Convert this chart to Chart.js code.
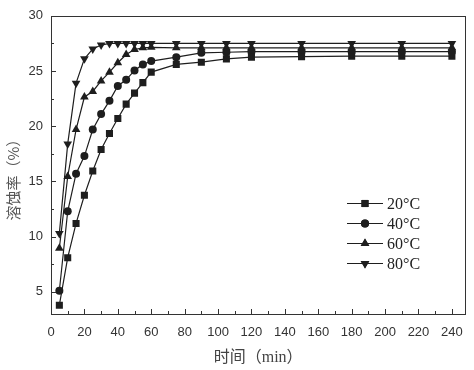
<!DOCTYPE html>
<html>
<head>
<meta charset="utf-8">
<script src="https://cdn.jsdelivr.net/npm/chart.js@4.4.1/dist/chart.umd.min.js"></script>
<style>
  html, body { margin: 0; padding: 0; background: #fff; }
  #wrap { width: 474px; height: 370px; }
</style>
</head>
<body>
<div id="wrap"><canvas id="c" width="474" height="370"></canvas></div>
<script>
// ---- data ----
const times = [5, 10, 15, 20, 25, 30, 35, 40, 45, 50, 55, 60, 75, 90, 105, 120, 150, 180, 210, 240];
const s20 = [3.8, 8.1, 11.2, 13.75, 15.95, 17.9, 19.35, 20.7, 22.0, 23.0, 23.95, 24.9, 25.6, 25.8, 26.1, 26.25, 26.3, 26.35, 26.35, 26.35];
const s40 = [5.1, 12.3, 15.7, 17.3, 19.7, 21.1, 22.3, 23.65, 24.2, 25.05, 25.6, 25.9, 26.25, 26.65, 26.7, 26.75, 26.75, 26.75, 26.75, 26.75];
const s60 = [8.95, 15.45, 19.7, 22.65, 23.15, 24.1, 24.9, 25.75, 26.5, 26.95, 27.1, 27.15, 27.1, 27.1, 27.1, 27.1, 27.1, 27.1, 27.1, 27.1];
const s80 = [10.3, 18.4, 23.9, 26.1, 27.0, 27.35, 27.5, 27.5, 27.5, 27.5, 27.5, 27.5, 27.5, 27.5, 27.5, 27.5, 27.5, 27.5, 27.5, 27.5];
const seriesLabels = ['20°C', '40°C', '60°C', '80°C'];
const xTicks = [0, 20, 40, 60, 80, 100, 120, 140, 160, 180, 200, 220, 240];
const yTicks = [5, 10, 15, 20, 25, 30];
const xTitle = '时间（min）';
const yTitle = '溶蚀率（%）　　';

const INK = '#1e1e1e';
const markers = [
  { pointStyle: 'rect', radius: 5, rotation: 0 },
  { pointStyle: 'circle', radius: 4, rotation: 0 },
  { pointStyle: 'triangle', radius: 5, rotation: 0 },
  { pointStyle: 'triangle', radius: 5, rotation: 180 }
];
const allSeries = [s20, s40, s60, s80];

const datasets = allSeries.map((s, i) => ({
  label: seriesLabels[i],
  data: times.map((t, k) => ({ x: t, y: s[k] })),
  borderColor: INK,
  backgroundColor: INK,
  borderWidth: 1.2,
  pointStyle: markers[i].pointStyle,
  pointRadius: markers[i].radius,
  pointRotation: markers[i].rotation,
  pointBorderWidth: 0,
  pointBackgroundColor: INK,
  tension: 0
}));

const frame = {
  id: 'frame',
  afterDraw(chart) {
    const { ctx, chartArea: a, scales: { x, y } } = chart;
    ctx.save();
    ctx.strokeStyle = '#333';
    ctx.lineWidth = 1;
    ctx.strokeRect(Math.round(a.left) + 0.5, Math.round(a.top) + 0.5,
                   Math.round(a.right - a.left), Math.round(a.bottom - a.top));
    ctx.beginPath();
    for (let v = 0; v <= 240; v += 10) {
      const px = Math.round(x.getPixelForValue(v)) + 0.5;
      const len = v % 20 === 0 ? 5 : 3;
      ctx.moveTo(px, a.bottom);
      ctx.lineTo(px, a.bottom - len);
    }
    for (let v = 5; v <= 30; v += 2.5) {
      const py = Math.round(y.getPixelForValue(v)) + 0.5;
      const len = v % 5 === 0 ? 5 : 3;
      ctx.moveTo(a.left, py);
      ctx.lineTo(a.left + len, py);
    }
    ctx.stroke();

    // legend (inside plot area)
    const lx0 = 347, lx1 = 383, tx = 387;
    const rows = [203, 223, 243, 263];
    ctx.font = '16px "Liberation Serif", "Times New Roman", serif';
    ctx.textBaseline = 'middle';
    ctx.textAlign = 'left';
    chart.data.datasets.forEach((ds, i) => {
      const yy = rows[i] + 0.5;
      ctx.strokeStyle = INK;
      ctx.lineWidth = 1.2;
      ctx.beginPath();
      ctx.moveTo(lx0, yy);
      ctx.lineTo(lx1, yy);
      ctx.stroke();
      ctx.fillStyle = INK;
      Chart.helpers.drawPoint(ctx, {
        pointStyle: markers[i].pointStyle,
        radius: markers[i].radius,
        rotation: markers[i].rotation,
        borderWidth: 0
      }, (lx0 + lx1) / 2, yy);
      ctx.fill();
      ctx.fillStyle = '#222';
      ctx.fillText(ds.label, tx, yy + 1);
    });
    ctx.restore();
  }
};

new Chart(document.getElementById('c'), {
  type: 'line',
  data: { datasets },
  options: {
    responsive: false,
    animation: false,
    devicePixelRatio: 1,
    layout: { padding: { top: 12, right: 8, left: 0, bottom: 0 } },
    plugins: { legend: { display: false }, tooltip: { enabled: false } },
    scales: {
      x: {
        type: 'linear',
        min: 0, max: 248,
        afterBuildTicks: s => { s.ticks = xTicks.map(v => ({ value: v })); },
        afterFit: s => { s.height = 56; },
        grid: { display: false, drawTicks: false },
        border: { display: false },
        ticks: {
          padding: 11,
          color: '#333',
          maxRotation: 0,
          font: { family: '"Liberation Sans", Arial, sans-serif', size: 13 }
        },
        title: {
          display: true,
          text: xTitle,
          color: '#444',
          padding: { top: 0, bottom: 3 },
          font: { family: '"Liberation Serif", "Noto Sans CJK SC", serif', size: 16 }
        }
      },
      y: {
        type: 'linear',
        min: 3, max: 30,
        afterBuildTicks: s => { s.ticks = yTicks.map(v => ({ value: v })); },
        afterFit: s => { s.width = 51; },
        grid: { display: false, drawTicks: false },
        border: { display: false },
        ticks: {
          padding: 8,
          color: '#333',
          font: { family: '"Liberation Sans", Arial, sans-serif', size: 13 }
        },
        title: {
          display: true,
          text: yTitle,
          color: '#555',
          padding: { top: 4, bottom: 0 },
          font: { family: '"Noto Sans CJK SC", serif', size: 15 }
        }
      }
    }
  },
  plugins: [frame]
});
</script>
</body>
</html>
